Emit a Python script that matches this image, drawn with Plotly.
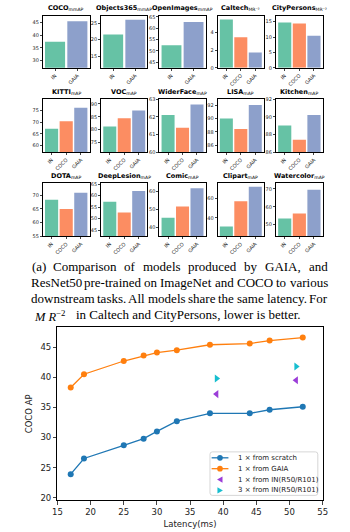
import plotly.graph_objects as go

W, H = 350, 532

# ---------------- data ----------------
datasets = ["COCO", "Objects365", "OpenImages", "Caltech", "CityPersons",
            "KITTI", "VOC", "WiderFace", "LISA", "Kitchen",
            "DOTA", "DeepLesion", "Comic", "Clipart", "Watercolor"]
metrics = ["mmAP", "mmAP", "mmAP", "MR⁻²", "MR⁻²",
           "mAP", "mAP", "mAP", "mAP", "mAP",
           "mAP", "mAP", "mAP", "mAP", "mAP"]
in_vals = [37.4, 21.6, 52.5, 5.5, 14.7,
           67.1, 81.3, 62.1, 90.0, 89.0,
           68.4, 57.3, 45.4, 31.0, 53.5]
coco_vals = [None, None, None, 3.47, 14.4,
             70.4, 84.4, 61.38, 88.45, 87.4,
             65.0, 52.6, 51.5, 57.2, 56.3]
gaia_vals = [45.5, 26.1, 62.8, 1.74, 10.4,
             76.1, 87.4, 62.7, 92.05, 90.2,
             71.0, 62.0, 61.5, 72.4, 69.6]
y_ranges = [[27.2, 47.7], [11.4, 27.4], [42.5, 65.6], [0, 5.95], [0, 17.0],
            [57.2, 79.8], [71.4, 91.8], [60, 63], [85, 92.9], [86, 92],
            [55, 74.5], [42.4, 65.4], [35.3, 64.3], [21.0, 76.1], [43.6, 73.2]]
y_dticks = [5, 5, 5, 2, 5,
            5, 5, 1, 2, 2,
            5, 5, 10, 20, 10]

latency = [17, 19, 25, 28, 30, 33, 38, 44, 47, 52]
ap_scratch = [23.9, 26.5, 28.7, 29.8, 31.0, 32.7, 34.0, 34.0, 34.6, 35.1]
ap_gaia = [38.3, 40.5, 42.7, 43.6, 44.1, 44.5, 45.4, 45.6, 46.1, 46.6]
lat_in1x = [39, 51]
ap_in1x = [37.2, 39.5]
lat_in3x = [39, 51]
ap_in3x = [39.8, 41.8]

legend_labels = ["1 × from scratch", "1 × from GAIA",
                 "1 × from IN(R50/R101)", "3 × from IN(R50/R101)"]

caption_lines = ["(a) Comparison of models produced by GAIA, and",
                 "ResNet50 pre-trained on ImageNet and COCO to various",
                 "downstream tasks. All models share the same latency. For"]
caption_last = "in Caltech and CityPersons, lower is better."

# ---------------- style ----------------
C_IN, C_COCO, C_GAIA = "#66c2a5", "#fc8d62", "#8da0cb"
C_BLUE, C_ORANGE, C_PURPLE, C_CYAN = "#1f77b4", "#ff7f0e", "#9b3dd8", "#17becf"


def xp(px):
    return px / W


def yp(py):
    return 1 - py / H


col_x = [(39, 87), (99, 146.5), (159, 206.5), (219, 266.5), (279, 327)]
row_y = [(12.7, 65.5), (97.3, 150.7), (182.3, 235.7)]

fig = go.Figure()
layout = dict(width=W, height=H, margin=dict(l=0, r=0, t=0, b=0),
              paper_bgcolor="white", plot_bgcolor="white",
              showlegend=False, bargap=0.1)
annotations = []
shapes = []

for i, name in enumerate(datasets):
    k = i + 1
    r, c = divmod(i, 5)
    x0, x1 = col_x[c]
    y0, y1 = row_y[r]
    if coco_vals[i] is None:
        cats = ["IN", "GAIA"]
        vals = [in_vals[i], gaia_vals[i]]
        cols = [C_IN, C_GAIA]
        xr = [-0.545, 1.545]
    else:
        cats = ["IN", "COCO", "GAIA"]
        vals = [in_vals[i], coco_vals[i], gaia_vals[i]]
        cols = [C_IN, C_COCO, C_GAIA]
        xr = [-0.595, 2.595]
    fig.add_trace(go.Bar(x=cats, y=vals, marker=dict(color=cols, line=dict(width=0)),
                         width=0.9, xaxis=f"x{k}", yaxis=f"y{k}", hoverinfo="x+y"))
    layout[f"xaxis{k}"] = dict(domain=[xp(x0), xp(x1)], anchor=f"y{k}", type="category",
                               range=xr, tickangle=-45, tickfont=dict(size=5, color="#222",
                               family="DejaVu Sans"), ticks="outside", ticklen=2, tickwidth=0.8,
                               showline=True, mirror=True, linecolor="black", linewidth=1.1,
                               showgrid=False, fixedrange=True)
    layout[f"yaxis{k}"] = dict(domain=[yp(y1), yp(y0)], anchor=f"x{k}", range=y_ranges[i],
                               dtick=y_dticks[i], tick0=0, ticks="outside", ticklen=2,
                               tickwidth=0.8, tickfont=dict(size=5, color="#222",
                               family="DejaVu Sans"), showline=True, mirror=True,
                               linecolor="black", linewidth=1.1, showgrid=False,
                               zeroline=False, fixedrange=True)
    annotations.append(dict(text=f"<b>{name}</b><sub>{metrics[i]}</sub>",
                            x=xp((x0 + x1) / 2), y=yp(y0 - 1.2), xref="paper", yref="paper",
                            xanchor="center", yanchor="bottom", showarrow=False,
                            font=dict(size=6.5, color="black", family="DejaVu Sans")))

# ---------------- line chart ----------------
k = 16
fig.add_trace(go.Scatter(x=latency, y=ap_scratch, mode="lines+markers",
                         line=dict(color=C_BLUE, width=1.3), marker=dict(size=6, color=C_BLUE),
                         name=legend_labels[0], xaxis=f"x{k}", yaxis=f"y{k}"))
fig.add_trace(go.Scatter(x=latency, y=ap_gaia, mode="lines+markers",
                         line=dict(color=C_ORANGE, width=1.3), marker=dict(size=6, color=C_ORANGE),
                         name=legend_labels[1], xaxis=f"x{k}", yaxis=f"y{k}"))
fig.add_trace(go.Scatter(x=lat_in1x, y=ap_in1x, mode="markers",
                         marker=dict(symbol="triangle-left", size=7, color=C_PURPLE),
                         name=legend_labels[2], xaxis=f"x{k}", yaxis=f"y{k}"))
fig.add_trace(go.Scatter(x=lat_in3x, y=ap_in3x, mode="markers",
                         marker=dict(symbol="triangle-right", size=7, color=C_CYAN),
                         name=legend_labels[3], xaxis=f"x{k}", yaxis=f"y{k}"))

axfont = dict(size=8.5, color="#222", family="DejaVu Sans")
layout[f"xaxis{k}"] = dict(domain=[xp(54), xp(327)], anchor=f"y{k}", range=[15, 55], dtick=5,
                           tick0=0, ticks="outside", ticklen=3.5, tickwidth=0.8, tickfont=axfont,
                           showline=True, mirror=True, linecolor="black", linewidth=1,
                           showgrid=False, zeroline=False,
                           title=dict(text="Latency(ms)", font=axfont, standoff=5))
layout[f"yaxis{k}"] = dict(domain=[yp(503), yp(328)], anchor=f"x{k}", range=[19.55, 48.3],
                           dtick=5, tick0=0, ticks="outside", ticklen=3.5, tickwidth=0.8,
                           tickfont=axfont, showline=True, mirror=True, linecolor="black",
                           linewidth=1, showgrid=False, zeroline=False,
                           title=dict(text="COCO AP", font=axfont, standoff=6))

# manual compact legend (matplotlib style)
lx0, ly0, lx1, ly1, rr = 211, 454, 322, 498, 2.5


def P(a, b):
    return f"{xp(a):.5f},{yp(b):.5f}"


path = (f"M{P(lx0 + rr, ly0)} L{P(lx1 - rr, ly0)} Q{P(lx1, ly0)} {P(lx1, ly0 + rr)} "
        f"L{P(lx1, ly1 - rr)} Q{P(lx1, ly1)} {P(lx1 - rr, ly1)} L{P(lx0 + rr, ly1)} "
        f"Q{P(lx0, ly1)} {P(lx0, ly1 - rr)} L{P(lx0, ly0 + rr)} Q{P(lx0, ly0)} {P(lx0 + rr, ly0)} Z")
shapes.append(dict(type="path", path=path, xref="paper", yref="paper",
                   line=dict(color="#cccccc", width=0.8), fillcolor="rgba(255,255,255,0.8)"))
rows = [460, 471, 482, 493]
mx = 221.3
for yy, col in zip(rows[:2], [C_BLUE, C_ORANGE]):
    shapes.append(dict(type="line", xref="paper", yref="paper", x0=xp(212.7), x1=xp(230),
                       y0=yp(yy), y1=yp(yy), line=dict(color=col, width=1.3)))
    shapes.append(dict(type="circle", xref="paper", yref="paper", x0=xp(mx - 2.9),
                       x1=xp(mx + 2.9), y0=yp(yy + 2.9), y1=yp(yy - 2.9),
                       fillcolor=col, line=dict(width=0)))
yy = rows[2]
shapes.append(dict(type="path", xref="paper", yref="paper",
                   path=f"M{P(mx - 3, yy)} L{P(mx + 2.6, yy - 3.2)} L{P(mx + 2.6, yy + 3.2)} Z",
                   fillcolor=C_PURPLE, line=dict(width=0)))
yy = rows[3]
shapes.append(dict(type="path", xref="paper", yref="paper",
                   path=f"M{P(mx + 3, yy)} L{P(mx - 2.6, yy - 3.2)} L{P(mx - 2.6, yy + 3.2)} Z",
                   fillcolor=C_CYAN, line=dict(width=0)))
for yy, lab in zip(rows, legend_labels):
    annotations.append(dict(text=lab, x=xp(238), y=yp(yy), xref="paper", yref="paper",
                            xanchor="left", yanchor="middle", showarrow=False,
                            font=dict(size=7, color="#222", family="DejaVu Sans")))

# ---------------- caption (justified, Times-like) ----------------
TW = {' ': 250, '(': 333, ')': 333, ',': 250, '-': 333, '.': 250, '/': 278}
for ch in "0123456789":
    TW[ch] = 500
TW.update(dict(A=722, B=667, C=667, D=722, E=611, F=556, G=722, H=722, I=333, J=389,
               K=722, L=611, M=889, N=722, O=722, P=556, Q=722, R=667, S=556, T=611,
               U=722, V=722, W=944, X=722, Y=722, Z=611,
               a=444, b=500, c=444, d=500, e=444, f=333, g=500, h=500, i=278, j=278,
               k=500, l=278, m=778, n=500, o=500, p=500, q=500, r=333, s=389, t=278,
               u=500, v=500, w=722, x=500, y=500, z=444))
FS = 13
SERIF = "Liberation Serif"


def tw(s):
    return sum(TW.get(ch, 500) for ch in s) * FS / 1000.0


L, R = 27.5, 332
line_y = [266.5, 282.5, 298.5, 315]
for ln, yy in zip(caption_lines, line_y):
    words = ln.split(" ")
    widths = [tw(w_) for w_ in words]
    gap = (R - L - sum(widths)) / (len(words) - 1)
    x = L
    for w_, wd in zip(words, widths):
        annotations.append(dict(text=w_, x=xp(x + wd / 2), y=yp(yy), xref="paper", yref="paper",
                                xanchor="center", yanchor="middle", showarrow=False,
                                font=dict(size=FS, color="black", family=SERIF)))
        x += wd + gap
annotations.append(dict(text="<i>M R</i><sup>−2</sup>", x=xp(28), y=yp(line_y[3] + 1.5),
                        xref="paper", yref="paper", xanchor="left", yanchor="middle",
                        showarrow=False, font=dict(size=12.5, color="black", family=SERIF)))
annotations.append(dict(text=caption_last, x=xp(71.5), y=yp(line_y[3]), xref="paper",
                        yref="paper", xanchor="left", yanchor="middle", showarrow=False,
                        font=dict(size=FS, color="black", family=SERIF)))

layout["annotations"] = annotations
layout["shapes"] = shapes
fig.update_layout(**layout)
fig.write_html("out.html")
